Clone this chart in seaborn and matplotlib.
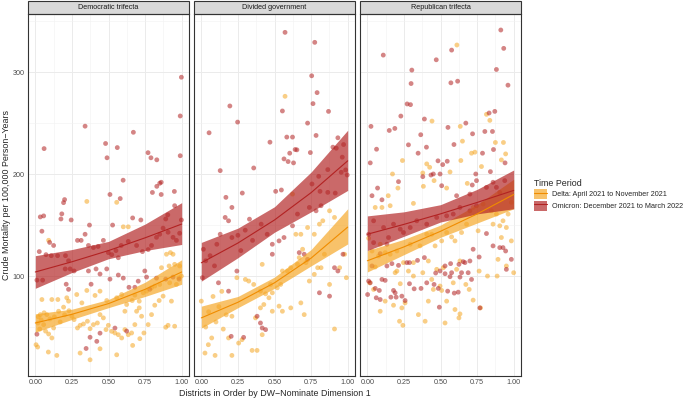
import numpy as np
import pandas as pd
import matplotlib
matplotlib.use("Agg")
import matplotlib.pyplot as plt
from matplotlib.patches import Patch, Rectangle
from matplotlib.lines import Line2D
import seaborn as sns

panels = ["Democratic trifecta", "Divided government", "Republican trifecta"]
periods = ["Delta: April 2021 to November 2021", "Omicron: December 2021 to March 2022"]
x_ticks = [0.0, 0.25, 0.5, 0.75, 1.0]
x_tick_labels = ["0.00", "0.25", "0.50", "0.75", "1.00"]
y_ticks = [100, 200, 300]

# district points (x = rank in DW-Nominate order, y = crude mortality)
dem_delta = [
    (0.005, 32.7), (0.016, 30.4), (0.089, 25.5), (0.147, 22.2), (0.091, 43.2), (0.113, 39.3),
    (0.079, 62.2), (0.034, 62.2), (0.018, 54), (0.057, 52.4), (0.125, 49.1), (0.159, 65.5),
    (0.193, 69.5), (0.227, 75.4), (0.25, 60.6), (0.265, 57.3), (0.288, 49.1), (0.306, 51.7),
    (0.329, 53), (0.356, 55.7), (0.374, 48.4), (0.397, 52.4), (0.424, 54), (0.442, 62.2),
    (0.465, 59), (0.483, 47.5), (0.499, 51.7), (0.522, 45.8), (0.544, 44.2), (0.567, 42.5),
    (0.59, 39.3), (0.612, 47.5), (0.635, 42.5), (0.658, 44.2), (0.68, 52.4), (0.692, 65.5),
    (0.71, 68.8), (0.726, 60.6), (0.742, 44.2), (0.771, 52.4), (0.794, 62.2), (0.816, 71.4),
    (0.846, 76), (0.873, 80.3), (0.891, 49.8), (0.907, 51.7), (0.93, 75.4), (0.952, 50.8),
    (0.98, 98.4), (0.998, 100), (0.862, 108.2), (0.914, 109.9), (0.941, 121.4), (0.113, 77),
    (0.154, 77), (0.215, 78.7), (0.283, 81.9), (0.318, 73.7), (0.352, 85.9), (0.408, 81),
    (0.442, 85.2), (0.488, 76), (0.556, 78.7), (0.59, 81.9), (0.624, 72.1), (0.662, 76),
    (0.71, 75.4), (0.76, 85.2), (0.794, 88.5), (0.816, 90.2), (0.85, 91.8), (0.091, 135.1),
    (0.601, 148.3), (0.635, 148.3), (0.352, 173.2), (0.556, 172.3), (0.306, 24.5), (0.374, 17.9),
    (0.442, 28.7), (0.556, 22.8), (0.665, 32), (0.714, 38.6), (0.612, 65.5), (0.68, 81.3),
    (0.045, 77), (0.737, 83.6), (0.896, 121.4), (0.923, 123), (0.952, 111.5), (0.986, 109.9),
    (0.964, 91.8), (0.918, 93.4), (0.02, 60), (0.04, 57), (0.06, 64), (0.1, 58), (0.13, 60),
    (0.17, 55), (0.2, 62), (0.23, 66), (0.03, 48), (0.07, 46),
]
dem_omicron = [
    (0.998, 295), (0.99, 257), (0.06, 225), (0.34, 247), (0.48, 230), (0.49, 216), (0.56, 226),
    (0.67, 241), (0.77, 221), (0.79, 216), (0.83, 214), (0.99, 218), (0.60, 194), (0.86, 192),
    (0.85, 191), (0.83, 188), (0.95, 183), (0.80, 182), (0.86, 180), (0.51, 180), (0.58, 176),
    (0.20, 175), (0.034, 158), (0.057, 159), (0.193, 172), (0.181, 161), (0.175, 156),
    (0.245, 155), (0.37, 150), (0.528, 150), (0.665, 157), (0.721, 155), (0.891, 156),
    (0.905, 160), (0.952, 169), (0.045, 144), (0.027, 124), (0.098, 133), (0.125, 130),
    (0.073, 121), (0.109, 120), (0.152, 120), (0.206, 120), (0.227, 115), (0.204, 107),
    (0.238, 107), (0.265, 105), (0.288, 135), (0.313, 135), (0.34, 141), (0.363, 130),
    (0.397, 128), (0.429, 129), (0.465, 135), (0.499, 123), (0.522, 121), (0.551, 125),
    (0.567, 118), (0.587, 130), (0.635, 134), (0.692, 130), (0.732, 124), (0.771, 126),
    (0.794, 130), (0.828, 138), (0.85, 141), (0.873, 147), (0.907, 143), (0.941, 138),
    (0.964, 135), (0.986, 142), (0.998, 155), (0.011, 96), (0.05, 96), (0.211, 92), (0.363, 105),
    (0.381, 92), (0.415, 107), (0.442, 102), (0.488, 107), (0.51, 97), (0.567, 101), (0.601, 98),
    (0.64, 89), (0.68, 89), (0.703, 95), (0.748, 105), (0.782, 87), (0.828, 98), (0.011, 43),
    (0.227, 87), (0.347, 29), (0.374, 40), (0.42, 36), (0.442, 44), (0.544, 49), (0.624, 46),
    (0.76, 99), (0.891, 97), (0.941, 99), (0.982, 97),
]
div_delta = [
    (0.572, 276.3), (0.623, 180.4), (0.071, 39.3), (0.048, 32.7), (0.025, 24.5), (0.094, 22.2),
    (0.186, 39.3), (0.209, 60.6), (0.0, 75.4), (0.209, 22.2), (0.255, 34.3), (0.278, 37.6),
    (0.347, 27.1), (0.381, 27.1), (0.416, 42.5), (0.243, 98.4), (0.301, 96.7), (0.324, 95.1),
    (0.358, 91.8), (0.404, 85.2), (0.439, 82.6), (0.462, 78.7), (0.485, 83.6), (0.519, 88.5),
    (0.542, 91.8), (0.554, 105), (0.588, 105), (0.611, 108.2), (0.657, 111.5), (0.669, 118.1),
    (0.692, 126.3), (0.715, 113.2), (0.738, 95.1), (0.772, 101.7), (0.795, 108.2), (0.818, 108.2),
    (0.841, 121.4), (0.876, 91.8), (0.91, 48.1), (0.945, 108.2), (0.979, 121.4), (0.991, 98.4),
    (0.646, 141), (0.68, 141), (0.726, 147.6), (0.772, 141), (0.807, 150.9), (0.83, 154.2),
    (0.876, 164), (0.91, 157.5), (0.68, 73.7), (0.703, 62.2), (0.611, 68.8), (0.554, 65.5),
    (0.485, 65.5), (0.531, 70.5), (0.404, 68.8), (0.37, 59), (0.427, 72.1), (0.416, 111.5),
    (0.473, 91.8), (0.05, 65), (0.1, 55), (0.12, 70), (0.15, 48), (0.03, 50), (0.17, 62),
    (0.08, 80), (0.14, 85),
]
div_omicron = [
    (0.053, 240.5), (0.195, 266.8), (0.248, 251), (0.129, 203.4), (0.168, 177.2), (0.572, 339),
    (0.775, 329.2), (0.754, 296.4), (0.791, 279.9), (0.763, 269.1), (0.554, 261.9), (0.869, 261.5),
    (0.726, 250), (0.784, 237.9), (0.584, 236.3), (0.623, 236.3), (0.469, 231.3), (0.641, 224.1),
    (0.653, 223.8), (0.933, 235.6), (0.899, 226.4), (0.922, 225.4), (0.972, 229), (0.604, 220.5),
    (0.745, 221.1), (0.565, 214.9), (0.593, 212.3), (0.63, 211), (0.358, 206), (0.963, 216.6),
    (0.956, 201.8), (0.986, 204.1), (0.997, 199.1), (0.802, 197.8), (0.864, 204.4), (0.756, 190.3),
    (0.811, 183.1), (0.864, 182.1), (0.915, 181.4), (0.28, 181.4), (0.508, 183.1), (0.547, 184.4),
    (0.209, 167.3), (0.329, 155.8), (0.409, 150.9), (0.45, 141), (0.485, 131.2), (0.531, 134.5),
    (0.565, 137.8), (0.623, 149.3), (0.657, 160.8), (0.738, 167.3), (0.784, 164), (0.818, 169),
    (0.243, 104.9), (0.381, 60.6), (0.404, 54), (0.416, 49.1), (0.439, 47.5), (0.485, 121.4),
    (0.669, 123), (0.703, 121.4), (0.726, 116.4), (0.807, 83.6), (0.876, 80.3), (0.91, 108.2),
    (0.933, 105), (0.968, 121.4), (0.204, 40.9), (0.289, 39.9), (0.014, 126.3), (0.106, 131.2),
    (0.129, 141), (0.163, 157.5), (0.186, 154.2), (0.209, 137.8), (0.007, 98.4), (0.117, 93.4),
    (0.186, 85.2), (0.03, 115), (0.06, 120), (0.09, 110), (0.25, 140), (0.3, 145), (0.35, 135),
    (0.27, 125),
]
rep_delta = [
    (0.612, 326.6), (0.442, 252), (0.635, 246.8), (0.65, 232.3), (0.814, 258.6), (0.837, 252.7),
    (0.875, 231), (0.93, 231), (0.712, 220.5), (0.735, 221.5), (0.916, 213.9), (0.24, 213.3),
    (0.172, 200.1), (0.406, 210), (0.426, 206.7), (0.379, 201.1), (0.565, 202.1), (0.639, 213.3),
    (0.683, 190.9), (0.78, 207.4), (0.945, 219.8), (0.209, 186.3), (0.143, 178.8), (0.456, 193.6),
    (0.383, 188), (0.542, 186.3), (0.054, 167.3), (0.1, 167.3), (0.156, 169), (0.315, 171.3),
    (0.009, 137.1), (0.088, 131.2), (0.032, 124.6), (0.077, 119.7), (0.122, 123), (0.156, 121.4),
    (0.202, 124.6), (0.293, 131.2), (0.36, 129.6), (0.406, 141), (0.44, 141), (0.463, 129.6),
    (0.508, 134.5), (0.542, 142.7), (0.576, 138.4), (0.599, 134.5), (0.644, 142.7), (0.678, 150.9),
    (0.757, 144.4), (0.859, 150.9), (0.905, 149.3), (0.927, 154.2), (0.95, 147.6), (0.984, 134.5),
    (1.0, 103.3), (0.016, 93.4), (0.043, 86.9), (0.088, 65.5), (0.122, 75.4), (0.179, 71.4),
    (0.19, 103.3), (0.22, 55.7), (0.243, 51.7), (0.236, 68.8), (0.258, 73.7), (0.225, 92.5),
    (0.281, 104.9), (0.315, 100), (0.349, 62.2), (0.379, 103.3), (0.395, 55.7), (0.417, 75.4),
    (0.44, 96.7), (0.451, 86.9), (0.497, 90.2), (0.508, 85.9), (0.531, 54), (0.542, 75.4),
    (0.587, 93.4), (0.599, 67.2), (0.626, 59), (0.633, 62.9), (0.673, 91.8), (0.696, 86.9),
    (0.723, 76.4), (0.764, 104.9), (0.773, 68.8), (0.821, 100), (0.887, 100), (0.893, 116.4),
    (0.95, 109.9), (0.633, 114.8), (0.61, 106.6), (0.519, 108.2), (0.474, 106.6), (0.417, 114.8),
    (0.315, 113.2), (0.247, 113.2), (0.202, 104.9), (0.054, 108.9), (0.723, 167.3), (0.791, 170.6),
    (0.848, 164), (0.882, 160.8), (0.962, 160.8), (0.984, 172.3), (0.916, 137.8),
]
rep_omicron = [
    (0.912, 341.3), (0.932, 323.3), (0.109, 316.7), (0.576, 321.6), (0.471, 312.1), (0.304, 302),
    (0.882, 302.6), (0.571, 289.5), (0.617, 291.1), (0.299, 288.8), (0.961, 287.2), (0.272, 268.8),
    (0.295, 268.1), (0.025, 246.8), (0.229, 256.9), (0.39, 254), (0.15, 242.8), (0.188, 244.8),
    (0.551, 245.8), (0.673, 250), (0.871, 261.5), (0.832, 259.9), (0.803, 241.8), (0.855, 241.8),
    (0.719, 239.5), (0.365, 238.6), (0.592, 229), (0.281, 228.7), (0.404, 226.4), (0.063, 224.4),
    (0.347, 220.5), (0.787, 220.5), (0.862, 224.1), (0.02, 211), (0.483, 213), (0.546, 212.6),
    (0.515, 209.3), (0.941, 211), (0.451, 200.1), (0.497, 200.1), (0.435, 199.1), (0.379, 197.5),
    (0.508, 188.6), (0.741, 200.1), (0.841, 202.4), (0.717, 189.3), (0.07, 186.3), (0.213, 192.6),
    (0.032, 178.8), (0.1, 174.8), (0.814, 187), (0.859, 192), (0.882, 187), (0.939, 193.6),
    (0.905, 182), (0.746, 193.6), (0.701, 180.4), (0.61, 178.8), (0.009, 95.1), (0.02, 93.4),
    (0.002, 81.9), (0.054, 87.9), (0.082, 85.9), (0.061, 78.7), (0.088, 77), (0.1, 96.7),
    (0.122, 95.8), (0.161, 79.3), (0.179, 85.9), (0.19, 83.6), (0.197, 79.3), (0.236, 80.3),
    (0.258, 76), (0.288, 92.5), (0.32, 87.5), (0.367, 87.9), (0.406, 93.4), (0.456, 91.8),
    (0.492, 69.5), (0.485, 87.9), (0.549, 85.2), (0.576, 103.3), (0.594, 83.3), (0.621, 84.2),
    (0.644, 103.3), (0.689, 103.3), (0.712, 96.7), (0.769, 68.8), (0.467, 103), (0.531, 102.3),
    (0.565, 99.4), (0.633, 99), (0.764, 118.7), (0.814, 141.7), (0.859, 129.6), (0.905, 127.9),
    (0.927, 127.9), (0.945, 124.6), (0.95, 106.6), (0.984, 116.4), (0.723, 126.3), (0.701, 114.8),
    (0.667, 113.2), (0.655, 114.1), (0.626, 111.5), (0.569, 112.2), (0.531, 109.9), (0.497, 105),
    (0.39, 118.1), (0.343, 115.4), (0.288, 113.2), (0.27, 113.2), (0.213, 110.5), (0.168, 112.2),
    (0.134, 109.9), (0.032, 109.9), (0.088, 122), (0.043, 154.2), (0.111, 147.6), (0.179, 150.9),
    (0.225, 146), (0.247, 142.7), (0.293, 147.6), (0.338, 154.2), (0.406, 150.9), (0.474, 157.5),
    (0.542, 159.1), (0.587, 160.8), (0.633, 167.3), (0.701, 164), (0.746, 169), (0.009, 141),
    (0.043, 132.8), (0.134, 131.2), (0.145, 137.8),
]

# fitted curves (Poisson GLM) with 95% band
fit_x = [0.0, 0.25, 0.5, 0.75, 1.0]
dem_delta_fit = [54, 62.5, 73, 87, 104]
dem_delta_lo = [45, 57.5, 69, 80, 92]
dem_delta_hi = [63, 67.5, 77, 94, 116]
dem_omicron_fit = [104, 114, 125, 137.5, 151]
dem_omicron_lo = [88, 103.5, 117, 125, 131]
dem_omicron_hi = [120, 126, 134, 151, 172]
div_delta_fit = [59, 74.3, 93.4, 117.6, 148]
div_delta_lo = [49, 69, 88, 110, 131.5]
div_delta_hi = [70.5, 80, 99, 126, 166]
div_omicron_fit = [113, 132.4, 155, 181.8, 213]
div_omicron_lo = [95, 118, 143, 163, 184]
div_omicron_hi = [133, 147, 168, 202, 243]
rep_delta_fit = [115, 128.6, 143.9, 160.9, 180]
rep_delta_lo = [104, 121, 138, 152, 166]
rep_delta_hi = [125, 136, 150, 170, 195]
rep_omicron_fit = [141, 150.7, 161, 172.2, 184]
rep_omicron_lo = [125, 139, 153, 161, 166]
rep_omicron_hi = [159, 163, 170, 185, 204]

points = {
    (panels[0], periods[0]): dem_delta, (panels[0], periods[1]): dem_omicron,
    (panels[1], periods[0]): div_delta, (panels[1], periods[1]): div_omicron,
    (panels[2], periods[0]): rep_delta, (panels[2], periods[1]): rep_omicron,
}
fits = {
    (panels[0], periods[0]): (dem_delta_fit, dem_delta_lo, dem_delta_hi),
    (panels[0], periods[1]): (dem_omicron_fit, dem_omicron_lo, dem_omicron_hi),
    (panels[1], periods[0]): (div_delta_fit, div_delta_lo, div_delta_hi),
    (panels[1], periods[1]): (div_omicron_fit, div_omicron_lo, div_omicron_hi),
    (panels[2], periods[0]): (rep_delta_fit, rep_delta_lo, rep_delta_hi),
    (panels[2], periods[1]): (rep_omicron_fit, rep_omicron_lo, rep_omicron_hi),
}

rows = []
for (panel, period), pts in points.items():
    for x, y in pts:
        rows.append({"panel": panel, "period": period, "x": x, "y": y})
df = pd.DataFrame(rows)

colors = {periods[0]: "#F5A623", periods[1]: "#B22222"}
line_colors = {periods[0]: "#F08C00", periods[1]: "#B22222"}

sns.set_theme(style="white")
plt.rcParams["font.family"] = ["Liberation Sans", "DejaVu Sans"]

W, H = 685, 399
fig = plt.figure(figsize=(W / 100, H / 100), dpi=100)
lefts = [28, 194, 360]
pw = 161
top, bottom = 14, 376
ph = bottom - top
small = 5.2
big = 6.4

for i, panel in enumerate(panels):
    ax = fig.add_axes([lefts[i] / W, 1 - bottom / H, pw / W, ph / H])
    sub = df[df["panel"] == panel]
    sns.scatterplot(data=sub, x="x", y="y", hue="period", hue_order=periods, palette=colors,
                    s=12, alpha=0.55, linewidth=0, legend=False, ax=ax, zorder=2)
    for period in periods:
        fit, lo, hi = fits[(panel, period)]
        ax.fill_between(fit_x, lo, hi, color=colors[period], alpha=0.68, linewidth=0, zorder=3)
        sns.lineplot(x=fit_x, y=fit, color=line_colors[period], linewidth=0.8, ax=ax, zorder=4)

    ax.set_xlim(-0.05, 1.05)
    ax.set_ylim(2, 357)
    ax.set_xticks(x_ticks)
    ax.set_xticklabels(x_tick_labels)
    ax.set_xticks([0.125, 0.375, 0.625, 0.875], minor=True)
    ax.set_yticks(y_ticks)
    ax.set_yticks([50, 150, 250, 350], minor=True)
    ax.set_xlabel("")
    ax.set_ylabel("")
    ax.grid(which="major", color="#EBEBEB", linewidth=0.7)
    ax.grid(which="minor", color="#F2F2F2", linewidth=0.4)
    ax.set_axisbelow(True)
    ax.tick_params(which="major", direction="out", length=1.6, width=0.6, color="#333333",
                   labelsize=small, labelcolor="#4D4D4D", pad=0.8)
    ax.tick_params(which="minor", length=0)
    if i > 0:
        ax.set_yticklabels([])
        ax.tick_params(axis="y", which="major", length=0)
    for sp in ax.spines.values():
        sp.set_color("#333333")
        sp.set_linewidth(0.8)

    strip_h = 13 / ph
    ax.add_patch(Rectangle((0, 1), 1, strip_h, transform=ax.transAxes, clip_on=False,
                           facecolor="#D9D9D9", edgecolor="#333333", linewidth=0.8))
    ax.text(0.5, 1 + strip_h / 2, panel, transform=ax.transAxes, ha="center", va="center",
            fontsize=small, color="#1A1A1A")

fig.text(7 / W, 1 - 195 / H, "Crude Mortality per 100,000 Person\u2212Years", rotation=90,
         ha="center", va="center", fontsize=big)
fig.text(274.5 / W, 1 - 393 / H, "Districts in Order by DW\u2212Nominate Dimension 1",
         ha="center", va="center", fontsize=big)

handles = []
for period in periods:
    handles.append((Patch(facecolor=colors[period], alpha=0.68, linewidth=0),
                    Line2D([], [], color=line_colors[period], linewidth=0.8)))
fig.legend(handles, periods, title="Time Period", loc="center left",
           bbox_to_anchor=(530 / W, 1 - 195 / H), frameon=False, fontsize=small,
           title_fontsize=big, handlelength=1.9, handleheight=1.9, handletextpad=0.6,
           labelspacing=0.15, alignment="left", borderpad=0)

fig.savefig("out.png", dpi=100)
